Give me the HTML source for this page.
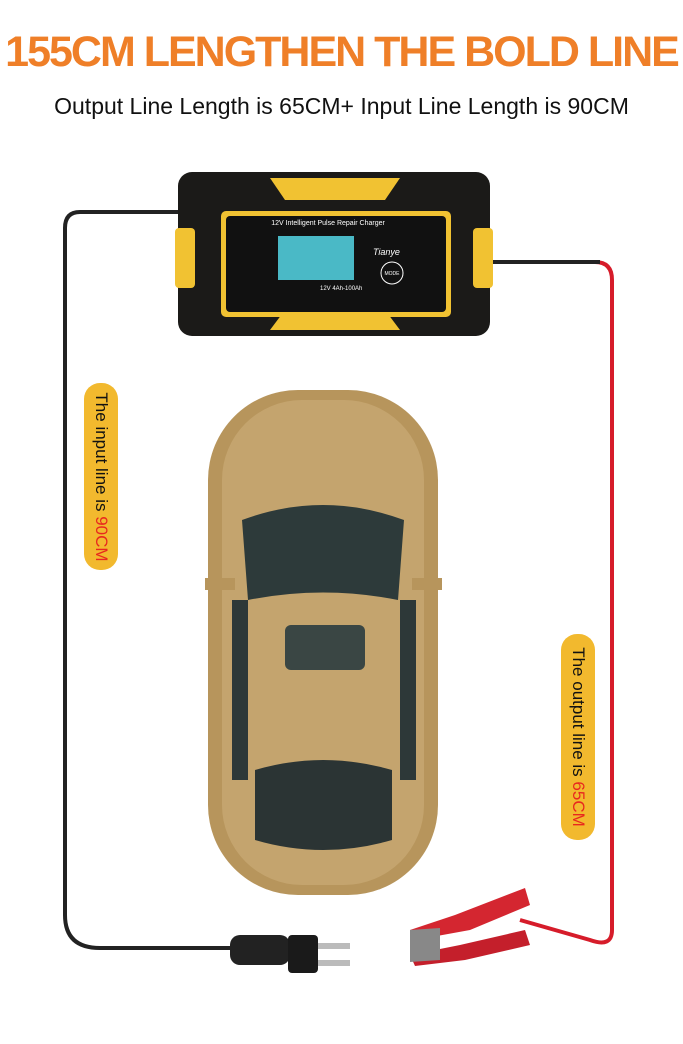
<!DOCTYPE html>
<html><head><meta charset="utf-8"><style>
body{margin:0;width:683px;height:1044px;background:#fff;position:relative;overflow:hidden;font-family:"Liberation Sans",sans-serif}
.t{position:absolute;left:0;width:683px;text-align:center}
.pill{position:absolute;background:#f2b92e;border-radius:16px}
.pill span{position:absolute;left:50%;top:50%;transform:translate(-50%,-50%) rotate(90deg);white-space:nowrap;font-size:17px;color:#111}
.pill b{color:#e8281e;font-weight:normal}
</style></head><body>
<div class="t" style="top:28px;font-size:43px;font-weight:bold;color:#ef7f28;letter-spacing:-2px">155CM LENGTHEN THE BOLD LINE</div>
<div class="t" style="top:93px;font-size:23px;color:#111">Output Line Length is 65CM+ Input Line Length is 90CM</div>
<svg width="683" height="1044" style="position:absolute;left:0;top:0">
<path d="M180 212 L80 212 Q65 212 65 228 L65 915 Q65 948 100 948 L235 948" fill="none" stroke="#222" stroke-width="4"/>
<path d="M488 262 L595 262 Q612 262 612 280 L612 930 Q612 948 590 940 L520 920" fill="none" stroke="#d61c2a" stroke-width="4"/>
<path d="M488 262 L600 262" stroke="#222" stroke-width="4"/>
<!-- charger -->
<rect x="178" y="172" width="312" height="164" rx="14" fill="#1b1a18"/>
<rect x="175" y="228" width="20" height="60" rx="4" fill="#f1c232"/>
<rect x="473" y="228" width="20" height="60" rx="4" fill="#f1c232"/>
<path d="M270 178 L400 178 L385 200 L285 200Z" fill="#f1c232"/>
<path d="M270 330 L400 330 L385 310 L285 310Z" fill="#f1c232"/>
<rect x="221" y="211" width="230" height="106" rx="5" fill="#f1c232"/>
<rect x="226" y="216" width="220" height="96" rx="4" fill="#111"/>
<rect x="278" y="236" width="76" height="44" fill="#4ab9c6"/>
<text x="328" y="225" font-size="7" fill="#fff" text-anchor="middle">12V Intelligent Pulse Repair Charger</text>
<text x="320" y="290" font-size="6" fill="#fff">12V  4Ah-100Ah</text>
<text x="373" y="255" font-size="9" fill="#fff" font-style="italic">Tianye</text>
<circle cx="392" cy="273" r="11" fill="#111" stroke="#fff"/>
<text x="392" y="275" font-size="5" fill="#fff" text-anchor="middle">MODE</text>
<!-- plug -->
<rect x="230" y="935" width="60" height="30" rx="10" fill="#222"/>
<rect x="288" y="935" width="30" height="38" rx="4" fill="#1a1a1a"/>
<rect x="318" y="943" width="32" height="6" fill="#bbb"/>
<rect x="318" y="960" width="32" height="6" fill="#bbb"/>
<!-- clips -->
<path d="M525 888 L455 915 L410 930 L415 940 L470 930 L530 905Z" fill="#d42630"/>
<path d="M525 930 L460 945 L410 955 L415 966 L465 960 L530 945Z" fill="#c41f2b"/>
<path d="M410 930 L440 928 L440 960 L410 962Z" fill="#888"/>
<!-- car -->
<rect x="208" y="390" width="230" height="505" rx="90" fill="#b7955c"/>
<rect x="222" y="400" width="202" height="485" rx="80" fill="#c4a46e"/>
<path d="M242 520 Q323 490 404 520 L398 600 Q323 585 248 600Z" fill="#2d3a3a"/>
<rect x="285" y="625" width="80" height="45" rx="6" fill="#3a4644"/>
<path d="M255 770 Q323 750 392 770 L392 840 Q323 860 255 840Z" fill="#2b3434"/>
<rect x="232" y="600" width="16" height="180" fill="#2d3838"/>
<rect x="400" y="600" width="16" height="180" fill="#2d3838"/>
<rect x="205" y="578" width="30" height="12" fill="#b7955c"/>
<rect x="412" y="578" width="30" height="12" fill="#b7955c"/>
</svg>
<div class="pill" style="left:84px;top:383px;width:34px;height:187px"><span>The input line is <b>90CM</b></span></div>
<div class="pill" style="left:561px;top:634px;width:34px;height:206px"><span>The output line is <b>65CM</b></span></div>
</body></html>
